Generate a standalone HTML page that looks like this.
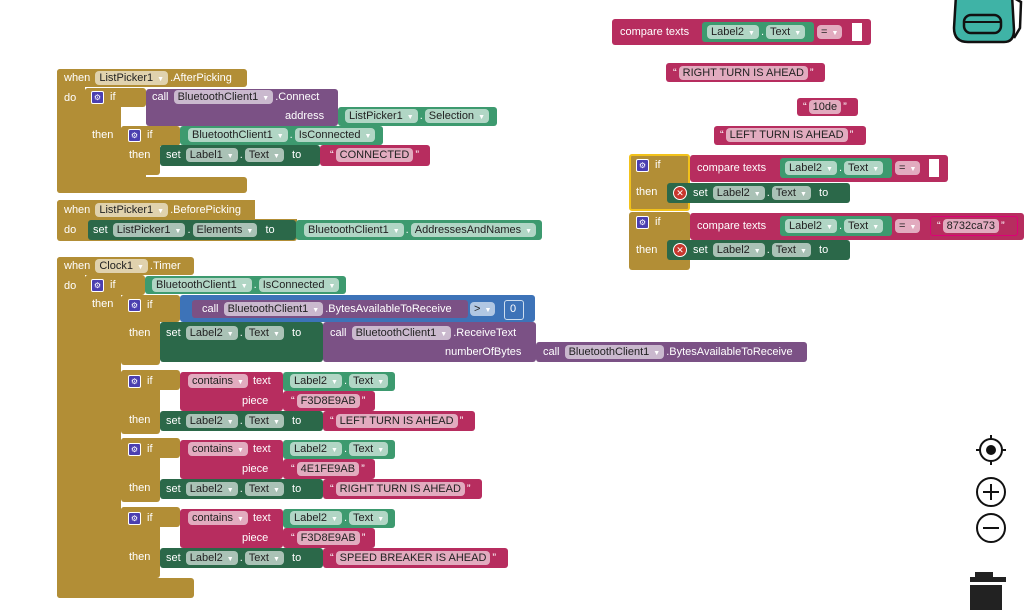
<!DOCTYPE html>
<html><head><meta charset="utf-8"><style>
body{margin:0;width:1024px;height:610px;background:#fff;position:relative;overflow:hidden;font-family:"Liberation Sans",sans-serif;}
.b{position:absolute;border-radius:3px}
.G{background:#b28e36}.M{background:#b72d5f}.L{background:#3d9a6f}.D{background:#2b6849}.P{background:#7b5185}.B{background:#3d73b8}
.t{position:absolute;color:#fff;font-size:11px;height:16px;line-height:16px;white-space:nowrap}
.p{display:inline-block;background:rgba(255,255,255,.6);color:#222;border-radius:4px;padding:0 4px;height:14px;line-height:14px;margin:0 2px;vertical-align:middle}
.p i{font-style:normal;font-size:7px;color:#fff;margin-left:4px}
.g{display:inline-block;width:11px;height:11px;background:#4b3fb0;border:1px solid #fff;border-radius:2px;vertical-align:middle;margin-right:6px;font-size:8px;line-height:11px;text-align:center;color:#fff}
.x{display:inline-block;width:12px;height:12px;border-radius:50%;background:#c8372d;border:1px solid #fff;color:#fff;font-size:9px;line-height:12px;text-align:center;vertical-align:middle;margin-right:6px}
.w{position:absolute;background:#fff}
</style></head><body>

<!-- Event 1 -->
<div class="b G" style="left:57px;top:69px;width:190px;height:18px"></div>
<div class="b G" style="left:57px;top:69px;width:28px;height:124px"></div>
<div class="b G" style="left:57px;top:177px;width:190px;height:16px"></div>
<div class="t" style="left:64px;top:70px">when <span class="p">ListPicker1<i>▼</i></span>.AfterPicking</div>
<div class="t" style="left:64px;top:90px">do</div>
<div class="b G" style="left:85px;top:88px;width:61px;height:19px"></div>
<div class="b G" style="left:85px;top:88px;width:36px;height:99px"></div>
<div class="b G" style="left:85px;top:168px;width:61px;height:19px"></div>
<div class="t" style="left:91px;top:89px"><span class="g">⚙</span>if</div>
<div class="t" style="left:92px;top:127px">then</div>
<div class="b P" style="left:146px;top:89px;width:192px;height:37px"></div>
<div class="t" style="left:152px;top:89px">call <span class="p">BluetoothClient1<i>▼</i></span>.Connect</div>
<div class="t" style="left:285px;top:108px">address</div>
<div class="b L" style="left:338px;top:107px;width:159px;height:19px"></div>
<div class="t" style="left:343px;top:108px"><span class="p">ListPicker1<i>▼</i></span>.<span class="p">Selection<i>▼</i></span></div>
<div class="b G" style="left:121px;top:126px;width:59px;height:20px"></div>
<div class="b G" style="left:121px;top:126px;width:39px;height:49px"></div>
<div class="t" style="left:128px;top:127px"><span class="g">⚙</span>if</div>
<div class="t" style="left:129px;top:147px">then</div>
<div class="b L" style="left:180px;top:126px;width:203px;height:19px"></div>
<div class="t" style="left:186px;top:127px"><span class="p">BluetoothClient1<i>▼</i></span>.<span class="p">IsConnected<i>▼</i></span></div>
<div class="b D" style="left:160px;top:145px;width:160px;height:21px"></div>
<div class="t" style="left:166px;top:147px">set <span class="p">Label1<i>▼</i></span>.<span class="p">Text<i>▼</i></span>&nbsp;&nbsp;to</div>
<div class="b M" style="left:320px;top:145px;width:110px;height:21px"></div>
<div class="t" style="left:330px;top:147px">“<span class="p">CONNECTED</span>”</div>

<!-- Event 2 -->
<div class="b G" style="left:57px;top:200px;width:198px;height:20px"></div>
<div class="b G" style="left:57px;top:200px;width:240px;height:41px"></div>
<div class="w" style="left:255px;top:200px;width:42px;height:19px"></div>
<div class="t" style="left:64px;top:202px">when <span class="p">ListPicker1<i>▼</i></span>.BeforePicking</div>
<div class="t" style="left:64px;top:222px">do</div>
<div class="b D" style="left:88px;top:220px;width:208px;height:20px"></div>
<div class="t" style="left:93px;top:222px">set <span class="p">ListPicker1<i>▼</i></span>.<span class="p">Elements<i>▼</i></span>&nbsp;&nbsp;to</div>
<div class="b L" style="left:296px;top:220px;width:246px;height:20px"></div>
<div class="t" style="left:302px;top:222px"><span class="p">BluetoothClient1<i>▼</i></span>.<span class="p">AddressesAndNames<i>▼</i></span></div>

<!-- Event 3 -->
<div class="b G" style="left:57px;top:257px;width:137px;height:18px"></div>
<div class="b G" style="left:57px;top:257px;width:28px;height:341px"></div>
<div class="b G" style="left:57px;top:578px;width:137px;height:20px"></div>
<div class="t" style="left:64px;top:258px">when <span class="p">Clock1<i>▼</i></span>.Timer</div>
<div class="t" style="left:64px;top:278px">do</div>
<div class="b G" style="left:85px;top:275px;width:60px;height:20px"></div>
<div class="b G" style="left:85px;top:275px;width:36px;height:311px"></div>
<div class="b G" style="left:85px;top:570px;width:60px;height:16px"></div>
<div class="t" style="left:91px;top:277px"><span class="g">⚙</span>if</div>
<div class="t" style="left:92px;top:296px">then</div>
<div class="b L" style="left:145px;top:276px;width:201px;height:18px"></div>
<div class="t" style="left:150px;top:277px"><span class="p">BluetoothClient1<i>▼</i></span>.<span class="p">IsConnected<i>▼</i></span></div>

<!-- if B -->
<div class="b G" style="left:121px;top:295px;width:59px;height:27px"></div>
<div class="b G" style="left:121px;top:295px;width:39px;height:70px"></div>
<div class="t" style="left:128px;top:297px"><span class="g">⚙</span>if</div>
<div class="t" style="left:129px;top:325px">then</div>
<div class="b B" style="left:180px;top:295px;width:355px;height:27px"></div>
<div class="b P" style="left:192px;top:300px;width:276px;height:18px"></div>
<div class="t" style="left:202px;top:301px">call <span class="p">BluetoothClient1<i>▼</i></span>.BytesAvailableToReceive</div>
<div class="t" style="left:468px;top:301px"><span class="p">&gt;<i>▼</i></span></div>
<div class="b B" style="left:504px;top:300px;width:18px;height:18px;border:1px solid #cde"></div>
<div class="t" style="left:510px;top:301px">0</div>
<div class="b D" style="left:160px;top:322px;width:163px;height:40px"></div>
<div class="t" style="left:166px;top:325px">set <span class="p">Label2<i>▼</i></span>.<span class="p">Text<i>▼</i></span>&nbsp;&nbsp;to</div>
<div class="b P" style="left:323px;top:322px;width:213px;height:40px"></div>
<div class="t" style="left:330px;top:325px">call <span class="p">BluetoothClient1<i>▼</i></span>.ReceiveText</div>
<div class="t" style="left:445px;top:344px">numberOfBytes</div>
<div class="b P" style="left:536px;top:342px;width:271px;height:20px"></div>
<div class="t" style="left:543px;top:344px">call <span class="p">BluetoothClient1<i>▼</i></span>.BytesAvailableToReceive</div>

<!-- if C/D/E -->
<div class="b G" style="left:121px;top:370px;width:59px;height:20px"></div>
<div class="b G" style="left:121px;top:370px;width:39px;height:64px"></div>
<div class="b G" style="left:121px;top:438px;width:59px;height:20px"></div>
<div class="b G" style="left:121px;top:438px;width:39px;height:64px"></div>
<div class="b G" style="left:121px;top:507px;width:59px;height:20px"></div>
<div class="b G" style="left:121px;top:507px;width:39px;height:71px"></div>

<div class="t" style="left:128px;top:373px"><span class="g">⚙</span>if</div>
<div class="t" style="left:129px;top:412px">then</div>
<div class="b M" style="left:180px;top:372px;width:103px;height:39px"></div>
<div class="t" style="left:186px;top:373px"><span class="p">contains<i>▼</i></span> text</div>
<div class="t" style="left:242px;top:393px">piece</div>
<div class="b L" style="left:283px;top:372px;width:112px;height:19px"></div>
<div class="t" style="left:288px;top:373px"><span class="p">Label2<i>▼</i></span>.<span class="p">Text<i>▼</i></span></div>
<div class="b M" style="left:283px;top:391px;width:92px;height:20px"></div>
<div class="t" style="left:291px;top:393px">“<span class="p">F3D8E9AB</span>”</div>
<div class="b D" style="left:160px;top:411px;width:163px;height:20px"></div>
<div class="t" style="left:166px;top:413px">set <span class="p">Label2<i>▼</i></span>.<span class="p">Text<i>▼</i></span>&nbsp;&nbsp;to</div>
<div class="b M" style="left:323px;top:411px;width:152px;height:20px"></div>
<div class="t" style="left:330px;top:413px">“<span class="p">LEFT TURN IS AHEAD</span>”</div>

<div class="t" style="left:128px;top:441px"><span class="g">⚙</span>if</div>
<div class="t" style="left:129px;top:480px">then</div>
<div class="b M" style="left:180px;top:440px;width:103px;height:39px"></div>
<div class="t" style="left:186px;top:441px"><span class="p">contains<i>▼</i></span> text</div>
<div class="t" style="left:242px;top:461px">piece</div>
<div class="b L" style="left:283px;top:440px;width:112px;height:19px"></div>
<div class="t" style="left:288px;top:441px"><span class="p">Label2<i>▼</i></span>.<span class="p">Text<i>▼</i></span></div>
<div class="b M" style="left:283px;top:459px;width:92px;height:20px"></div>
<div class="t" style="left:291px;top:461px">“<span class="p">4E1FE9AB</span>”</div>
<div class="b D" style="left:160px;top:479px;width:163px;height:20px"></div>
<div class="t" style="left:166px;top:481px">set <span class="p">Label2<i>▼</i></span>.<span class="p">Text<i>▼</i></span>&nbsp;&nbsp;to</div>
<div class="b M" style="left:323px;top:479px;width:159px;height:20px"></div>
<div class="t" style="left:330px;top:481px">“<span class="p">RIGHT TURN IS AHEAD</span>”</div>

<div class="t" style="left:128px;top:510px"><span class="g">⚙</span>if</div>
<div class="t" style="left:129px;top:549px">then</div>
<div class="b M" style="left:180px;top:509px;width:103px;height:39px"></div>
<div class="t" style="left:186px;top:510px"><span class="p">contains<i>▼</i></span> text</div>
<div class="t" style="left:242px;top:530px">piece</div>
<div class="b L" style="left:283px;top:509px;width:112px;height:19px"></div>
<div class="t" style="left:288px;top:510px"><span class="p">Label2<i>▼</i></span>.<span class="p">Text<i>▼</i></span></div>
<div class="b M" style="left:283px;top:528px;width:92px;height:20px"></div>
<div class="t" style="left:291px;top:530px">“<span class="p">F3D8E9AB</span>”</div>
<div class="b D" style="left:160px;top:548px;width:163px;height:20px"></div>
<div class="t" style="left:166px;top:550px">set <span class="p">Label2<i>▼</i></span>.<span class="p">Text<i>▼</i></span>&nbsp;&nbsp;to</div>
<div class="b M" style="left:323px;top:548px;width:185px;height:20px"></div>
<div class="t" style="left:330px;top:550px">“<span class="p">SPEED BREAKER IS AHEAD</span>”</div>

<!-- Right side -->
<div class="b M" style="left:612px;top:19px;width:259px;height:26px"></div>
<div class="t" style="left:620px;top:24px">compare texts</div>
<div class="b L" style="left:702px;top:22px;width:112px;height:20px"></div>
<div class="t" style="left:705px;top:24px"><span class="p">Label2<i>▼</i></span>.<span class="p">Text<i>▼</i></span></div>
<div class="t" style="left:815px;top:24px"><span class="p">=<i>▼</i></span></div>
<div class="w" style="left:852px;top:23px;width:10px;height:18px"></div>

<div class="b M" style="left:666px;top:63px;width:159px;height:19px"></div>
<div class="t" style="left:673px;top:65px">“<span class="p">RIGHT TURN IS AHEAD</span>”</div>
<div class="b M" style="left:797px;top:98px;width:61px;height:18px"></div>
<div class="t" style="left:803px;top:99px">“<span class="p">10de</span>”</div>
<div class="b M" style="left:714px;top:126px;width:152px;height:19px"></div>
<div class="t" style="left:720px;top:127px">“<span class="p">LEFT TURN IS AHEAD</span>”</div>

<div class="b G" style="left:629px;top:154px;width:61px;height:57px;border:2px solid #f2c21b;box-sizing:border-box"></div>
<div class="t" style="left:636px;top:157px"><span class="g">⚙</span>if</div>
<div class="t" style="left:636px;top:184px">then</div>
<div class="b M" style="left:690px;top:155px;width:258px;height:27px"></div>
<div class="t" style="left:697px;top:160px">compare texts</div>
<div class="b L" style="left:780px;top:158px;width:112px;height:20px"></div>
<div class="t" style="left:783px;top:160px"><span class="p">Label2<i>▼</i></span>.<span class="p">Text<i>▼</i></span></div>
<div class="t" style="left:893px;top:160px"><span class="p">=<i>▼</i></span></div>
<div class="w" style="left:929px;top:159px;width:10px;height:18px"></div>
<div class="b D" style="left:667px;top:183px;width:183px;height:20px"></div>
<div class="t" style="left:673px;top:185px"><span class="x">✕</span>set <span class="p">Label2<i>▼</i></span>.<span class="p">Text<i>▼</i></span>&nbsp;&nbsp;to</div>

<div class="b G" style="left:629px;top:212px;width:61px;height:58px"></div>
<div class="t" style="left:636px;top:214px"><span class="g">⚙</span>if</div>
<div class="t" style="left:636px;top:242px">then</div>
<div class="b M" style="left:690px;top:213px;width:334px;height:27px"></div>
<div class="t" style="left:697px;top:218px">compare texts</div>
<div class="b L" style="left:780px;top:216px;width:112px;height:20px"></div>
<div class="t" style="left:783px;top:218px"><span class="p">Label2<i>▼</i></span>.<span class="p">Text<i>▼</i></span></div>
<div class="t" style="left:893px;top:218px"><span class="p">=<i>▼</i></span></div>
<div class="b M" style="left:930px;top:216px;width:88px;height:20px;border:1px solid #d07;box-sizing:border-box"></div>
<div class="t" style="left:937px;top:218px">“<span class="p">8732ca73</span>”</div>
<div class="b D" style="left:667px;top:240px;width:183px;height:20px"></div>
<div class="t" style="left:673px;top:242px"><span class="x">✕</span>set <span class="p">Label2<i>▼</i></span>.<span class="p">Text<i>▼</i></span>&nbsp;&nbsp;to</div>

<!-- icons -->
<svg style="position:absolute;left:950px;top:0" width="74" height="50">
<path d="M6 -5 L4 28 Q4 42 18 42 L54 42 Q64 42 64 30 L62 -5 Z" fill="#3fb3a6" stroke="#111" stroke-width="2.5"/>
<path d="M64 -2 L71 2 L70 28 L64 38" fill="none" stroke="#111" stroke-width="2.5"/>
<rect x="14" y="15" width="37" height="18" rx="7" fill="#3fb3a6" stroke="#111" stroke-width="2.5"/>
<line x1="14" y1="22" x2="51" y2="22" stroke="#111" stroke-width="2"/>
</svg>
<svg style="position:absolute;left:970px;top:430px" width="50" height="180">
<circle cx="21" cy="20" r="11" fill="none" stroke="#111" stroke-width="2"/>
<circle cx="21" cy="20" r="5" fill="#111"/>
<line x1="21" y1="5" x2="21" y2="9" stroke="#111" stroke-width="2"/><line x1="21" y1="31" x2="21" y2="35" stroke="#111" stroke-width="2"/>
<line x1="6" y1="20" x2="10" y2="20" stroke="#111" stroke-width="2"/><line x1="32" y1="20" x2="36" y2="20" stroke="#111" stroke-width="2"/>
<circle cx="21" cy="62" r="14" fill="none" stroke="#111" stroke-width="2"/>
<line x1="13" y1="62" x2="29" y2="62" stroke="#111" stroke-width="2"/><line x1="21" y1="54" x2="21" y2="70" stroke="#111" stroke-width="2"/>
<circle cx="21" cy="98" r="14" fill="none" stroke="#111" stroke-width="2"/>
<line x1="13" y1="98" x2="29" y2="98" stroke="#111" stroke-width="2"/>
<rect x="-8" y="147" width="44" height="5" fill="#222"/><rect x="5" y="142" width="18" height="6" fill="#222"/>
<rect x="-3" y="155" width="35" height="30" fill="#222"/>
</svg>
</body></html>
